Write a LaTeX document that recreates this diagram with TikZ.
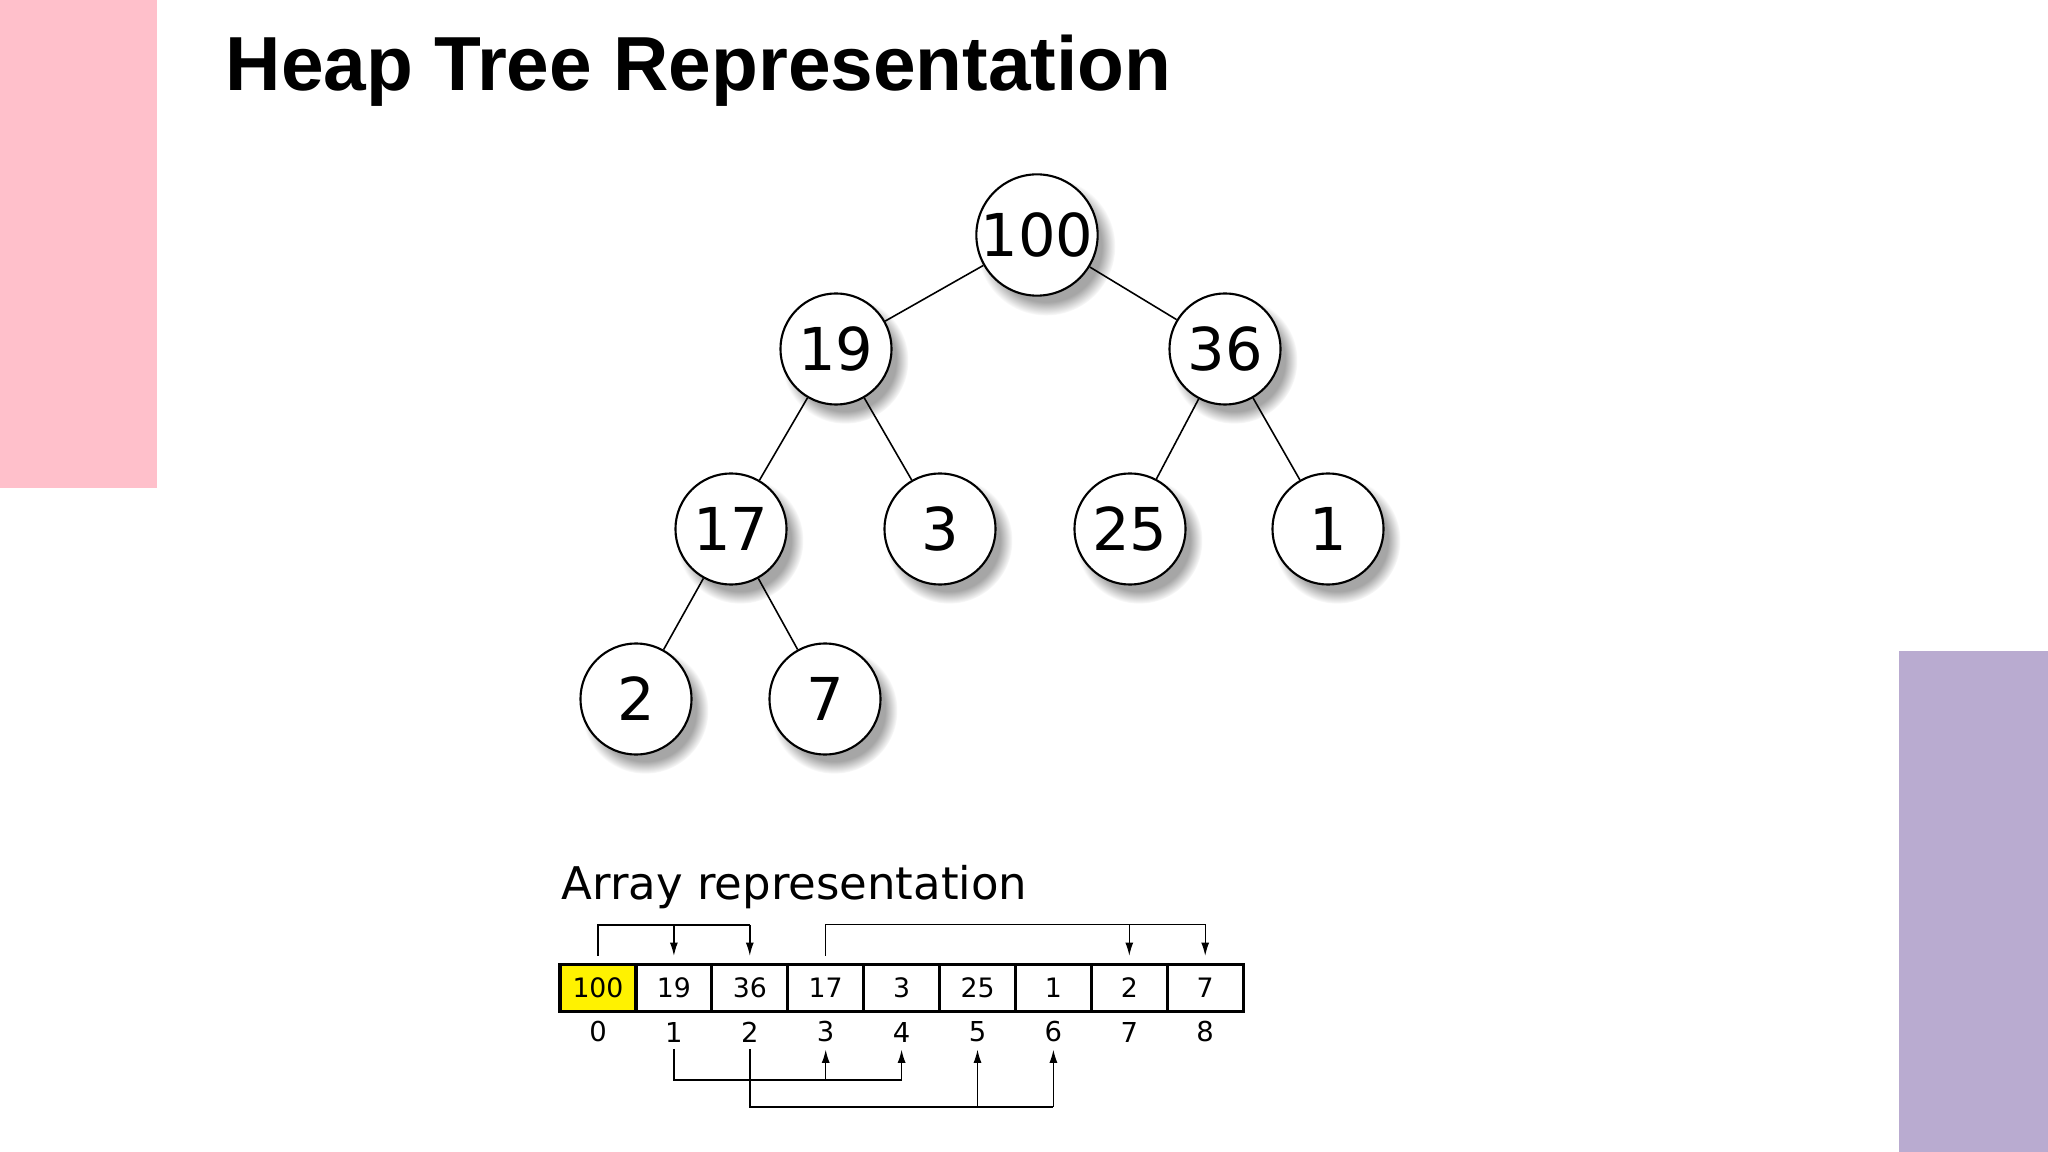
\documentclass[tikz,border=0pt]{standalone}
\usepackage{fontspec}
\setmainfont{DejaVu Sans}
\newfontfamily\titlefont{Liberation Sans}
\usepackage{xcolor}
\usetikzlibrary{shadows,fadings,arrows.meta,positioning}
\definecolor{pinkbar}{RGB}{255,192,203}
\definecolor{lilacbar}{RGB}{185,171,208}
\tikzset{
  heapnode/.style={circle,draw,line width=0.6pt,fill=white,minimum size=1.11cm,inner sep=0pt,
    font=\fontsize{16.8}{18}\selectfont,
    circular drop shadow={shadow xshift=0.8mm,shadow yshift=-1mm,shadow scale=1.14,
      fill=black!35,path fading={circle with fuzzy edge 20 percent}}},
  cell/.style={draw,line width=0.9pt,minimum width=0.759cm,minimum height=0.47cm,inner sep=0pt,
    font=\fontsize{7.6}{8}\selectfont},
  idx/.style={inner sep=0pt,font=\fontsize{7.8}{9}\selectfont},
  ptr/.style={line width=0.4pt,-{Latex[length=3.8pt,width=2.3pt]}}
}

\begin{document}
\begin{tikzpicture}[x=0.01cm,y=-0.01cm]
\useasboundingbox (0,0) rectangle (2048,1152);
\fill[white] (0,0) rectangle (2048,1152);
\fill[pinkbar] (0,0) rectangle (157,488);
\fill[lilacbar] (1899,651) rectangle (2048,1152);

\node[anchor=base west,inner sep=0pt,font=\titlefont\bfseries\fontsize{21.8}{24}\selectfont] (title) at (225,91) {Heap Tree Representation};

% the tree
\node[heapnode] (n100) at (1037,235) {100};
\node[heapnode] (n19) at (836,349) {19};
\node[heapnode] (n36) at (1225,349) {36};
\node[heapnode] (n17) at (731,529) {17};
\node[heapnode] (n3) at (940,529) {3};
\node[heapnode] (n25) at (1130,529) {25};
\node[heapnode] (n1) at (1328,529) {1};
\node[heapnode] (n2) at (636,699) {2};
\node[heapnode] (n7) at (825,699) {7};

\draw[line width=0.45pt] (n100) -- (n19);
\draw[line width=0.45pt] (n100) -- (n36);
\draw[line width=0.45pt] (n19) -- (n17);
\draw[line width=0.45pt] (n19) -- (n3);
\draw[line width=0.45pt] (n36) -- (n25);
\draw[line width=0.45pt] (n36) -- (n1);
\draw[line width=0.45pt] (n17) -- (n2);
\draw[line width=0.45pt] (n17) -- (n7);

% the array
\node[anchor=base west,inner sep=0pt,font=\fontsize{12.8}{14}\selectfont] (arrtitle) at (561,899) {Array representation};

\foreach \v/\c [count=\i from 0] in {100/yellow,19/white,36/white,17/white,3/white,25/white,1/white,2/white,7/white} {
  \node[cell,fill=\c] (c\i) at (598+75.9*\i,988) {\v};
  \node[idx] (i\i) at (598+75.9*\i,1032) {\i};
}

\draw[line width=0.4pt] ([yshift=2pt]c0.north) |- ([yshift=10.8pt]c2.north);
\draw[ptr] ([yshift=10.8pt]c1.north) -- ([yshift=2pt]c1.north);
\draw[ptr] ([yshift=10.8pt]c2.north) -- ([yshift=2pt]c2.north);
\draw[line width=0.4pt] ([yshift=2pt]c3.north) |- ([yshift=11pt]c8.north);
\draw[ptr] ([yshift=11pt]c7.north) -- ([yshift=2pt]c7.north);
\draw[ptr] ([yshift=11pt]c8.north) -- ([yshift=2pt]c8.north);

\draw[line width=0.4pt] ([yshift=-4.8pt]i1.center) |- ([yshift=-13.7pt]i4.center);
\draw[ptr] ([yshift=-13.7pt]i3.center) -- ([yshift=-5pt]i3.center);
\draw[ptr] ([yshift=-13.7pt]i4.center) -- ([yshift=-5pt]i4.center);
\draw[line width=0.4pt] ([yshift=-4.8pt]i2.center) |- ([yshift=-21.3pt]i6.center);
\draw[ptr] ([yshift=-21.3pt]i5.center) -- ([yshift=-5pt]i5.center);
\draw[ptr] ([yshift=-21.3pt]i6.center) -- ([yshift=-5pt]i6.center);
\end{tikzpicture}
\end{document}
